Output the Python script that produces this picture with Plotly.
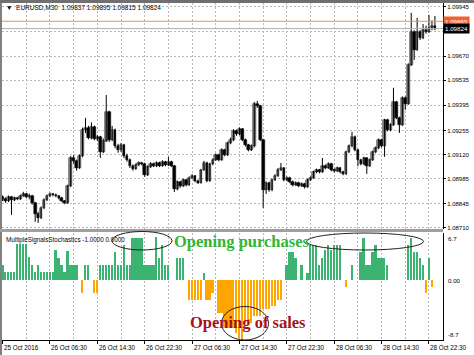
import plotly.graph_objects as go

# ---------------- data ----------------
opens = [1.08883, 1.08872, 1.08861, 1.08883, 1.08867, 1.08878, 1.08872, 1.08889, 1.08900, 1.08883,
         1.08889, 1.08850, 1.08788, 1.08766, 1.08822, 1.08867, 1.08889, 1.08900, 1.08894, 1.08889,
         1.08878, 1.08861, 1.08850, 1.08945, 1.09101, 1.09085, 1.09045, 1.09112, 1.09258, 1.09269,
         1.09213, 1.09275, 1.09208, 1.09219, 1.09135, 1.09196, 1.09358, 1.09202, 1.09258, 1.09168,
         1.09146, 1.09174, 1.09112, 1.09090, 1.09057, 1.09040, 1.09062, 1.09073, 1.09068, 1.09006,
         1.09051, 1.09068, 1.09057, 1.09073, 1.09057, 1.09079, 1.09062, 1.09079, 1.09057, 1.08928,
         1.08967, 1.08945, 1.08978, 1.08950, 1.08990, 1.09001, 1.08973, 1.08962, 1.09034, 1.09073,
         1.08973, 1.09068, 1.09090, 1.09118, 1.09090, 1.09146, 1.09118, 1.09185, 1.09202, 1.09252,
         1.09235, 1.09263, 1.09202, 1.09174, 1.09146, 1.09168, 1.09403, 1.09392, 1.09202, 1.08922,
         1.08962, 1.08922, 1.08978, 1.09001, 1.09034, 1.09045, 1.08978, 1.08990, 1.08967, 1.08950,
         1.08962, 1.08945, 1.08956, 1.08939, 1.08978, 1.08990, 1.09023, 1.09034, 1.09023, 1.09057,
         1.09045, 1.09068, 1.09034, 1.09029, 1.09045, 1.09023, 1.09012, 1.09135, 1.09168, 1.09219,
         1.09146, 1.09090, 1.09068, 1.09101, 1.09057, 1.09090, 1.09135, 1.09157, 1.09202, 1.09168,
         1.09314, 1.09258, 1.09286, 1.09414, 1.09325, 1.09286, 1.09437, 1.09403, 1.09621, 1.09806,
         1.09705, 1.09806, 1.09772, 1.09817, 1.09806, 1.09828, 1.09837]
closes = [1.08872, 1.08861, 1.08883, 1.08867, 1.08878, 1.08872, 1.08889, 1.08900, 1.08883, 1.08889,
          1.08850, 1.08788, 1.08766, 1.08822, 1.08867, 1.08889, 1.08900, 1.08894, 1.08889, 1.08878,
          1.08861, 1.08850, 1.08945, 1.09101, 1.09085, 1.09045, 1.09112, 1.09258, 1.09269, 1.09213,
          1.09275, 1.09208, 1.09219, 1.09135, 1.09196, 1.09358, 1.09202, 1.09258, 1.09168, 1.09146,
          1.09174, 1.09112, 1.09090, 1.09057, 1.09040, 1.09062, 1.09073, 1.09068, 1.09006, 1.09051,
          1.09068, 1.09057, 1.09073, 1.09057, 1.09079, 1.09062, 1.09079, 1.09057, 1.08928, 1.08967,
          1.08945, 1.08978, 1.08950, 1.08990, 1.09001, 1.08973, 1.08962, 1.09034, 1.09073, 1.08973,
          1.09068, 1.09090, 1.09118, 1.09090, 1.09146, 1.09118, 1.09185, 1.09202, 1.09252, 1.09235,
          1.09263, 1.09202, 1.09174, 1.09146, 1.09168, 1.09403, 1.09392, 1.09202, 1.08922, 1.08962,
          1.08922, 1.08978, 1.09001, 1.09034, 1.09045, 1.08978, 1.08990, 1.08967, 1.08950, 1.08962,
          1.08945, 1.08956, 1.08939, 1.08978, 1.08990, 1.09023, 1.09034, 1.09023, 1.09057, 1.09045,
          1.09068, 1.09034, 1.09029, 1.09045, 1.09023, 1.09012, 1.09135, 1.09168, 1.09219, 1.09146,
          1.09090, 1.09068, 1.09101, 1.09057, 1.09090, 1.09135, 1.09157, 1.09202, 1.09168, 1.09314,
          1.09258, 1.09286, 1.09414, 1.09325, 1.09286, 1.09437, 1.09403, 1.09621, 1.09806, 1.09705,
          1.09806, 1.09772, 1.09817, 1.09806, 1.09828, 1.09837, 1.09824]
highs = [1.08892, 1.08880, 1.08891, 1.08889, 1.08885, 1.08884, 1.08896, 1.08912, 1.08905, 1.08901,
         1.08895, 1.08856, 1.08800, 1.08830, 1.08875, 1.08897, 1.08908, 1.08906, 1.08902, 1.08894,
         1.08884, 1.08866, 1.08952, 1.09112, 1.09118, 1.09092, 1.09120, 1.09270, 1.09325, 1.09280,
         1.09300, 1.09282, 1.09230, 1.09225, 1.09210, 1.09453, 1.09365, 1.09280, 1.09265, 1.09180,
         1.09185, 1.09180, 1.09125, 1.09098, 1.09065, 1.09070, 1.09082, 1.09080, 1.09075, 1.09060,
         1.09078, 1.09075, 1.09082, 1.09080, 1.09088, 1.09085, 1.09107, 1.09086, 1.09062, 1.08975,
         1.08972, 1.08985, 1.08984, 1.08998, 1.09010, 1.09006, 1.08980, 1.09040, 1.09085, 1.09080,
         1.09075, 1.09098, 1.09126, 1.09124, 1.09155, 1.09152, 1.09192, 1.09215, 1.09262, 1.09260,
         1.09272, 1.09268, 1.09210, 1.09180, 1.09176, 1.09414, 1.09420, 1.09398, 1.09208, 1.08970,
         1.08968, 1.08986, 1.09010, 1.09045, 1.09073, 1.09050, 1.08998, 1.08996, 1.08975, 1.08970,
         1.08968, 1.08964, 1.08962, 1.08985, 1.08998, 1.09030, 1.09042, 1.09040, 1.09101, 1.09064,
         1.09076, 1.09074, 1.09042, 1.09052, 1.09050, 1.09030, 1.09142, 1.09176, 1.09247, 1.09226,
         1.09152, 1.09096, 1.09108, 1.09106, 1.09098, 1.09142, 1.09165, 1.09210, 1.09208, 1.09320,
         1.09320, 1.09295, 1.09493, 1.09420, 1.09332, 1.09445, 1.09445, 1.09630, 1.09912, 1.09815,
         1.09884, 1.09815, 1.09850, 1.09840, 1.09900, 1.09870, 1.09895]
lows = [1.08860, 1.08850, 1.08855, 1.08783, 1.08860, 1.08865, 1.08866, 1.08884, 1.08876, 1.08870,
        1.08840, 1.08744, 1.08738, 1.08760, 1.08815, 1.08860, 1.08882, 1.08886, 1.08882, 1.08870,
        1.08854, 1.08842, 1.08845, 1.08938, 1.09070, 1.09030, 1.09040, 1.09105, 1.09240, 1.09205,
        1.09205, 1.09200, 1.09195, 1.09101, 1.09128, 1.09190, 1.09190, 1.09195, 1.09155, 1.09130,
        1.09135, 1.09100, 1.09080, 1.09045, 1.09030, 1.09035, 1.09055, 1.09060, 1.08995, 1.09000,
        1.09045, 1.09050, 1.09050, 1.09050, 1.09052, 1.09055, 1.09056, 1.09050, 1.08911, 1.08920,
        1.08935, 1.08938, 1.08942, 1.08945, 1.08984, 1.08965, 1.08955, 1.08958, 1.09028, 1.08965,
        1.08968, 1.09060, 1.09084, 1.09082, 1.09085, 1.09110, 1.09112, 1.09178, 1.09195, 1.09225,
        1.09228, 1.09195, 1.09165, 1.09138, 1.09140, 1.09160, 1.09380, 1.09195, 1.08822, 1.08900,
        1.08912, 1.08915, 1.08972, 1.08995, 1.09028, 1.08970, 1.08972, 1.08960, 1.08942, 1.08945,
        1.08938, 1.08940, 1.08930, 1.08934, 1.08972, 1.08985, 1.09016, 1.09015, 1.09018, 1.09038,
        1.09040, 1.09026, 1.09020, 1.09022, 1.09015, 1.09004, 1.09006, 1.09128, 1.09160, 1.09138,
        1.09055, 1.09060, 1.09062, 1.09012, 1.09050, 1.09085, 1.09128, 1.09150, 1.09160, 1.09107,
        1.09250, 1.09250, 1.09280, 1.09318, 1.09241, 1.09280, 1.09370, 1.09398, 1.09615, 1.09649,
        1.09700, 1.09760, 1.09765, 1.09795, 1.09800, 1.09815, 1.09815]

# MultipleSignalsStochastics histogram, one value per bar
signal = [2.1, 1.1, 1.1, 1.1, 1.1, 5.1, 5.1, 5.1, 5.1, 3.3,
          2.1, 1.1, 2.1, 1.1, 1.1, 1.1, 1.1, 1.1, 4.3, 3.1,
          2.1, 1.1, 4.1, 2.1, 2.1, 2.1, 0.0, -1.9, 2.1, 2.1,
          0.0, -1.9, -1.9, 2.1, 2.1, 2.1, 2.1, 2.1, 4.0, 2.1,
          2.1, 5.0, 2.1, 2.1, 6.0, 6.0, 6.0, 6.0, 2.1, 2.1,
          2.1, 2.1, 6.2, 3.1, 5.0, 2.1, 2.1, 0.0, 0.0, 3.1,
          3.1, 3.1, 0.0, -2.9, -2.9, -2.9, -2.9, -2.9, 0.9, -2.9,
          -2.9, -1.9, 0.0, -4.8, -4.8, -6.8, -6.8, -6.8, -6.8, -7.7,
          -8.5, -8.7, -6.3, -6.3, -6.3, -5.3, -5.3, -5.3, -4.3, -4.3,
          -4.3, -3.8, -3.8, -2.9, -2.9, 0.0, 2.1, 4.0, 4.0, 3.1,
          0.0, 2.1, 0.0, 0.9, 5.0, 5.0, 5.0, 2.1, 3.1, 4.3,
          5.0, 4.3, 5.0, 5.0, 5.0, 0.0, -1.0, 0.0, 2.1, 0.0,
          0.0, 4.0, 6.0, 2.1, 2.1, 4.0, 5.0, 3.1, 3.1, 3.1,
          2.1, 0.0, 0.0, 0.0, 0.0, 0.0, 0.0, 5.0, 6.0, 4.0,
          4.0, 3.1, 2.1, -1.9, 3.1, -1.0, 0.0]

time_labels = ["25 Oct 2016", "26 Oct 06:30", "26 Oct 14:30", "26 Oct 22:30", "27 Oct 06:30",
               "27 Oct 14:30", "27 Oct 22:30", "28 Oct 06:30", "28 Oct 14:30", "28 Oct 22:30"]
time_label_bars = [0, 16, 32, 48, 64, 80, 96, 112, 128, 144]

price_ticks = [1.09945, 1.09810, 1.09670, 1.09535, 1.09395, 1.09255, 1.09120, 1.08985, 1.08845, 1.08710]
price_tick_text = ["1.09945", "", "1.09670", "1.09535", "1.09395", "1.09255", "1.09120", "1.08985", "1.08845", "1.08710"]
header_ohlc = ["1.09837", "1.09895", "1.09815", "1.09824"]
hline_price = 1.09865
bid_price = 1.09824
sub_labels = ["6.7", "0.00", "-8.7"]

# ---------------- layout helpers (pixel -> paper) ----------------
W, H = 474, 355
ML, MR, MT, MB = 2, 31, 3, 15
PW, PH = W - ML - MR, H - MT - MB


def px(x):
    return (x - ML) / PW


def py(y):
    return (H - MB - y) / PH


n = len(closes)
xs = list(range(n))

GREEN = "#3cb371"
ORANGE = "#ffa500"
GRID = "#b8b8b8"
FONT = "Liberation Sans, Arial, sans-serif"

fig = go.Figure()

# wicks
wx, wy = [], []
for i in xs:
    wx += [i, i, None]
    wy += [lows[i], highs[i], None]
fig.add_trace(go.Scatter(x=wx, y=wy, mode="lines", line=dict(color="black", width=1),
                         xaxis="x", yaxis="y", showlegend=False, hoverinfo="skip"))
# bodies
body_base = [min(o, c) for o, c in zip(opens, closes)]
body_h = [max(abs(c - o), 0.000012) for o, c in zip(opens, closes)]
body_col = ["#8c8c8c" if c >= o else "#000000" for o, c in zip(opens, closes)]
fig.add_trace(go.Bar(x=xs, y=body_h, base=body_base, width=0.9,
                     marker=dict(color=body_col, line=dict(color="black", width=0.5)),
                     xaxis="x", yaxis="y", showlegend=False, hoverinfo="skip"))

fig.add_trace(go.Bar(
    x=xs, y=signal, width=0.62,
    marker=dict(color=[GREEN if v >= 0 else ORANGE for v in signal], line=dict(width=0)),
    xaxis="x2", yaxis="y2", showlegend=False, hoverinfo="skip"))

xr = [-0.2, 148.73]
grid_common = dict(showgrid=True, gridcolor=GRID, gridwidth=1, griddash="2px,2px", zeroline=False)

fig.update_layout(
    width=W, height=H, margin=dict(l=ML, r=MR, t=MT, b=MB),
    paper_bgcolor="white", plot_bgcolor="white",
    font=dict(family=FONT, size=7, color="black"),
    barmode="overlay",
    xaxis=dict(domain=[0, 1], range=xr, anchor="y", tickmode="linear", tick0=0, dtick=8,
               showticklabels=False, ticks="", showline=False, **grid_common),
    yaxis=dict(domain=[py(229), 1], range=[1.08704, 1.09967], side="right",
               tickmode="array", tickvals=price_ticks, ticktext=price_tick_text,
               ticks="outside", ticklen=2, tickcolor="black", ticklabelstandoff=0,
               tickfont=dict(family=FONT, size=6, color="black"),
               showline=True, linecolor="black", linewidth=1, **grid_common),
    xaxis2=dict(domain=[0, 1], range=xr, anchor="y2", tickmode="array",
                tickvals=time_label_bars, ticktext=[""] * len(time_label_bars),
                ticks="outside", ticklen=3, tickcolor="black",
                showline=True, linecolor="black", linewidth=1,
                minor=dict(tickmode="linear", tick0=0, dtick=8, showgrid=True,
                           gridcolor=GRID, griddash="2px,2px", ticks=""),
                **grid_common),
    yaxis2=dict(domain=[0, py(233)], range=[-8.75, 6.75], side="right",
                showticklabels=False, ticks="", showgrid=False, zeroline=False,
                showline=True, linecolor="black", linewidth=1),
    bargap=0,
)

shapes = []
# window frame pieces
shapes.append(dict(type="rect", xref="paper", yref="paper", x0=px(0), x1=px(2), y0=py(355), y1=py(0),
                   fillcolor="#808080", line=dict(width=0), layer="above"))
shapes.append(dict(type="rect", xref="paper", yref="paper", x0=px(0), x1=px(474), y0=py(3), y1=py(0),
                   fillcolor="#707070", line=dict(width=0), layer="above"))
shapes.append(dict(type="rect", xref="paper", yref="paper", x0=px(0), x1=px(443), y0=py(232), y1=py(229),
                   fillcolor="#a0a0a0", line=dict(width=0), layer="above"))
# horizontal line object and bid line
shapes.append(dict(type="line", xref="paper", yref="y", x0=0, x1=1, y0=hline_price, y1=hline_price,
                   line=dict(color="#e8905a", width=1)))
shapes.append(dict(type="line", xref="paper", yref="y", x0=0, x1=1, y0=bid_price, y1=bid_price,
                   line=dict(color="#b0b0b0", width=1)))
# hand-drawn ellipses
shapes.append(dict(type="circle", xref="paper", yref="paper", x0=px(112), x1=px(172), y0=py(250), y1=py(231.5),
                   line=dict(color="#222222", width=1)))
shapes.append(dict(type="circle", xref="paper", yref="paper", x0=px(306.5), x1=px(423.5), y0=py(250), y1=py(233),
                   line=dict(color="#222222", width=1)))
shapes.append(dict(type="circle", xref="paper", yref="paper", x0=px(221.5), x1=px(268.5), y0=py(340), y1=py(306.5),
                   line=dict(color="#222222", width=1)))
fig.update_layout(shapes=shapes)

ann = []
ann.append(dict(xref="paper", yref="paper", x=px(4), y=py(7.5), xanchor="left", yanchor="middle",
                text="▼  EURUSD,M30  " + " ".join(header_ohlc), showarrow=False,
                font=dict(family=FONT, size=6.5, color="black")))
ann.append(dict(xref="paper", yref="paper", x=px(4), y=py(239.5), xanchor="left", yanchor="middle",
                text="MultipleSignalsStochastics -1.0000 0.0000", showarrow=False,
                font=dict(family=FONT, size=6.3, color="black")))
for b, lab in zip(time_label_bars, time_labels):
    ann.append(dict(xref="paper", yref="paper", x=px(2.6 + 2.961 * b - 0.5), y=py(347.5),
                    xanchor="left", yanchor="middle",
                    text=lab, showarrow=False, font=dict(family=FONT, size=6.3, color="black")))
for lab, yy in zip(sub_labels, [238, 280, 334]):
    ann.append(dict(xref="paper", yref="paper", x=px(446), y=py(yy), xanchor="left", yanchor="middle",
                    text=lab, showarrow=False, font=dict(family=FONT, size=6.2, color="black")))
# price labels on the right
ann.append(dict(xref="paper", yref="y", x=1, y=hline_price, xanchor="left", yanchor="middle",
                text="1.09865", showarrow=False, bgcolor="#f0622e", borderpad=1,
                font=dict(family=FONT, size=6.2, color="white")))
ann.append(dict(xref="paper", yref="y", x=1, y=bid_price, xanchor="left", yanchor="middle",
                text="1.09824", showarrow=False, bgcolor="#000000", borderpad=1,
                font=dict(family=FONT, size=6.2, color="white")))
# overlay texts
ann.append(dict(xref="paper", yref="paper", x=px(172), y=py(242), xanchor="left", yanchor="middle",
                text="<b>Opening purchases</b>", showarrow=False,
                font=dict(family="Liberation Serif, Times New Roman, serif", size=16.5, color="#33b533")))
ann.append(dict(xref="paper", yref="paper", x=px(188), y=py(322), xanchor="left", yanchor="middle",
                text="<b>Opening of sales</b>", showarrow=False,
                font=dict(family="Liberation Serif, Times New Roman, serif", size=16.5, color="#a3121b")))
fig.update_layout(annotations=ann)

fig.write_html("out.html")
